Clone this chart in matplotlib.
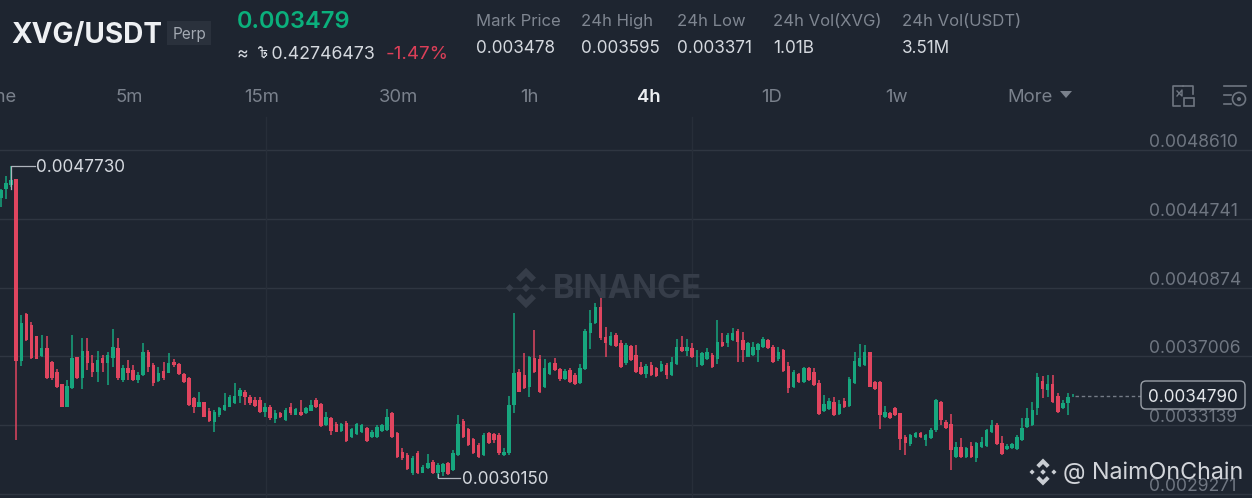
import matplotlib
matplotlib.use("Agg")
import matplotlib.pyplot as plt
from matplotlib import font_manager as fm
from matplotlib.ft2font import FT2Font
from matplotlib.patches import FancyBboxPatch, Rectangle, Polygon, Circle

plt.rcParams['font.family'] = ['Inter', 'Noto Sans', 'DejaVu Sans']

# prices in millionths of USDT
opens = [4589,4640,4664,4696,3677,3939,3877,3815,3705,3746,3671,3615,3544,3414,3521,3699,3577,3731,3662,3615,
 3690,3662,3690,3746,3568,3634,3624,3568,3596,3727,3652,3564,3620,3609,3667,3658,3602,3577,3465,3418,
 3442,3396,3334,3371,3399,3418,3440,3478,3502,3474,3456,3456,3390,3418,3347,3381,3343,3414,3371,3390,
 3381,3396,3456,
 3433,3315,3352,3320,3283,3328,3245,3264,3277,3300,3245,3249,3283,3287,3380,3268,3165,3146,3047,3159,
 3047,3071,3109,3043,3052,3099,3062,3146,3339,3290,3234,3202,3146,3268,3264,3259,3146,3156,3427,3615,
 3596,3530,3690,3684,3527,3602,3665,3628,3572,3624,3596,3553,3628,3834,3886,3976,3808,3765,3821,3778,3662,
 3759,3709,3643,3602,3653,3634,3621,3653,3596,3658,3756,3733,3746,3647,3653,3684,3709,3684,3784,3774,3793,
 3846,3793,3699,3709,3737,3752,3793,3756,3684,3737,3647,3527,3602,3559,3634,3615,3549,3396,3403,3446,3377,
 3452,3422,3549,3647,3653,3724,3559,3559,3358,3385,3409,3381,3250,3208,3246,3268,3231,3240,3287,
 3446,3334,3321,3133,3193,3137,3197,3128,3193,3197,3278,3315,3212,3178,3184,3178,3231,3302,3315,3409,3564,
 3512,3546,3478,3409,3437,3476]
highs = [4640,4715,4773,4700,3933,3943,3896,3815,3821,3817,3677,3628,3544,3568,3821,3699,3802,3802,3708,3731,
 3708,3727,3855,3802,3652,3680,3652,3615,3778,3737,3662,3643,3667,3718,3686,3662,3605,3587,3470,3499,
 3446,3409,3399,3418,3497,3484,3553,3521,3512,3484,3470,3474,3440,3427,3399,3390,3409,3437,3409,3456,
 3418,3456,3465,
 3437,3386,3358,3334,3324,3339,3296,3328,3320,3305,3287,3315,3320,3403,3386,3277,3184,3159,3140,3171,
 3090,3152,3118,3103,3103,3109,3174,3371,3347,3296,3240,3212,3272,3274,3272,3272,3184,3478,3943,3628,
 3721,3703,3849,3708,3684,3671,3690,3633,3628,3633,3605,3658,3853,3961,3999,4033,3864,3840,3830,3793,3774,
 3765,3765,3671,3658,3671,3643,3677,3666,3699,3797,3816,3797,3778,3737,3728,3746,3718,3906,3834,3834,3859,
 3853,3840,3784,3784,3778,3808,3797,3765,3752,3741,3671,3624,3606,3639,3639,3634,3568,3484,3465,3471,3456,
 3465,3587,3728,3771,3765,3728,3565,3565,3422,3390,3415,3385,3259,3265,3278,3278,3265,3296,3460,
 3452,3343,3377,3221,3240,3193,3221,3221,3249,3291,3343,3324,3253,3208,3216,3259,3353,3409,3446,3609,3591,
 3596,3596,3497,3456,3497,3489]
lows = [4539,4584,4655,3231,3647,3789,3684,3684,3699,3574,3568,3521,3414,3414,3515,3572,3515,3624,3587,3559,
 3615,3540,3643,3568,3559,3568,3564,3553,3590,3615,3534,3555,3568,3605,3643,3596,3553,3422,3381,3414,
 3358,3334,3274,3362,3396,3414,3433,3437,3427,3427,3418,3381,3362,3343,3328,3352,3337,3371,3371,3367,
 3375,3392,3409,
 3305,3311,3259,3274,3277,3221,3240,3259,3272,3221,3240,3244,3277,3281,3240,3127,3118,3062,3034,3039,
 3043,3066,3039,3015,3028,3036,3058,3140,3240,3197,3152,3131,3140,3206,3212,3146,3142,3146,3380,3498,
 3515,3470,3605,3493,3521,3598,3620,3564,3568,3553,3540,3545,3624,3740,3883,3793,3699,3759,3755,3633,3654,
 3675,3609,3596,3578,3591,3587,3615,3572,3591,3653,3728,3703,3690,3643,3647,3681,3634,3658,3756,3752,3789,
 3671,3671,3696,3703,3671,3746,3741,3662,3677,3615,3493,3521,3553,3553,3563,3535,3371,3390,3400,3366,3371,
 3413,3415,3546,3643,3647,3527,3512,3291,3353,3347,3366,3175,3147,3197,3242,3242,3197,3235,3278,
 3315,3291,3062,3128,3128,3131,3128,3109,3188,3193,3272,3203,3146,3175,3178,3175,3227,3296,3309,3371,
 3465,3471,3441,3381,3403,3371,3471]
closes = [4636,4677,4692,3675,3887,3793,3690,3686,3746,3577,3577,3527,3414,3534,3690,3577,3731,3662,3615,3680,
 3662,3708,3755,3577,3634,3605,3568,3596,3724,3643,3549,3609,3577,3662,3652,3602,3559,3427,3418,3446,
 3362,3339,3390,3409,3427,3470,3480,3512,3474,3437,3422,3390,3418,3352,3381,3362,3399,3381,3403,3371,
 3409,3427,3418,
 3309,3362,3283,3277,3319,3227,3290,3319,3315,3227,3277,3305,3315,3362,3245,3137,3127,3066,3127,3043,
 3081,3099,3047,3090,3096,3039,3159,3320,3245,3202,3156,3137,3259,3212,3230,3156,3165,3427,3605,3502,
 3521,3695,3615,3502,3633,3662,3624,3572,3620,3558,3545,3633,3845,3886,3976,3802,3774,3815,3759,3639,3765,
 3681,3615,3602,3647,3596,3591,3658,3596,3671,3756,3733,3752,3696,3647,3718,3728,3639,3784,3759,3821,3831,
 3784,3737,3774,3756,3771,3797,3746,3671,3728,3621,3521,3615,3559,3634,3568,3540,3377,3433,3452,3371,3433,
 3418,3572,3677,3690,3728,3531,3516,3371,3390,3353,3371,3235,3212,3259,3272,3246,3259,3287,3456,
 3343,3296,3175,3193,3133,3184,3133,3216,3221,3287,3315,3208,3152,3197,3208,3250,3296,3353,3399,3587,3516,
 3546,3446,3390,3441,3474,3479]
assert len(opens) == len(highs) == len(lows) == len(closes), (len(opens), len(highs), len(lows), len(closes))

tick_prices = [0.0048610, 0.0044741, 0.0040874, 0.0037006, 0.0033139, 0.0029271]
tick_labels = ["0.0048610", "0.0044741", "0.0040874", "0.0037006", "0.0033139", "0.0029271"]
high_label, low_label, last_price = 0.0047730, 0.0030150, 0.0034790
tabs = ["Time", "5m", "15m", "30m", "1h", "4h", "1D", "1w", "More"]
tab_x = [16, 129, 262, 399, 529, 649, 772, 897, 1030]
stats = [("Mark Price", "0.003478"), ("24h High", "0.003595"), ("24h Low", "0.003371"),
         ("24h Vol(XVG)", "1.01B"), ("24h Vol(USDT)", "3.51M")]
stat_x = [476, 581, 677, 773, 902]

BG = "#1e2530"; GRID = "#2f3641"; GREEN = "#17a67e"; RED = "#e0455f"
W, H = 1252, 498
fig = plt.figure(figsize=(W/100, H/100), dpi=100, facecolor=BG)
ax = fig.add_axes([0, 0, 1, 1], facecolor=BG)

n = len(opens)
step = (1073 - 1) / (n - 1)
ax.set_xlim(-1/step, (W - 1)/step)
per_px = (0.0048610 - 0.0029271) / (494 - 150)
ax.set_ylim(0.0048610 - (H - 150)*per_px, 0.0048610 + 150*per_px)
ax.axis("off")

grid_top = 1 - 117/H
for p in tick_prices:
    ax.axhline(p, color=GRID, lw=1, zorder=1)
for i in (52.1, 136):
    ax.axvline(i, ymin=0, ymax=grid_top, color="#272e39", lw=1, zorder=1)

for i in range(n):
    o, h, l, c = [v*1e-6 for v in (opens[i], highs[i], lows[i], closes[i])]
    col = GREEN if c >= o else RED
    ax.vlines(i, l, h, color=col, lw=1.1, zorder=3)
    ax.bar(i, abs(c-o), bottom=min(o, c), width=0.7, color=col, lw=0, zorder=3)

ax.plot([n-1+0.4, (1141-1)/step], [last_price]*2, color="#747b86", lw=1, ls=(0, (2.5, 2)), zorder=2)

LBL = "#d5d9df"
ax.plot([2, 2, 6.7], [0.00464, high_label, high_label], color="#aeb4bc", lw=0.9, zorder=4)
ax.text(6.9, high_label - 1.5*per_px, f"{high_label:.7f}", color=LBL, fontsize=12.3, va="center", ha="left", zorder=5)
low_i = 86
ax.plot([low_i, low_i, low_i+4.4], [0.00304, low_label, low_label], color="#aeb4bc", lw=0.9, zorder=4)
ax.text(low_i+4.8, low_label - 1.5*per_px, f"{low_label:.7f}", color=LBL, fontsize=12.3, va="center", ha="left", zorder=5)

ui = fig.add_axes([0, 0, 1, 1], facecolor="none")
ui.set_xlim(0, W); ui.set_ylim(H, 0); ui.axis("off")

for lab, p in zip(tick_labels, tick_prices):
    ax.text((1149-1)/step, p + 7.5*per_px, lab, color="#6f7681", fontsize=12.6, va="center", ha="left", zorder=2)

ui.add_patch(FancyBboxPatch((1144, 384), 98, 22, boxstyle="round,pad=3,rounding_size=5",
                            fc=BG, ec="#9aa0a8", lw=1, zorder=4))
ui.text(1193, 397, f"{last_price:.7f}", color="#e3e6ea", fontsize=12.3, ha="center", va="center", zorder=5)

# header
ui.text(11, 35, "XVG/USDT", color="#eef0f3", fontsize=20.1, fontweight="bold", va="center")
ui.add_patch(Rectangle((167, 21), 44, 24, fc="#2a313c", ec="none"))
ui.text(189, 34.5, "Perp", color="#a3a9b2", fontsize=11, ha="center", va="center")
ui.text(237, 21.5, "0.003479", color="#0bb07c", fontsize=17, fontweight="semibold", va="center")

# the taka sign: use any installed family that has it, otherwise a look-alike glyph
taka_family = None
for fe in fm.fontManager.ttflist:
    try:
        if 0x09F3 in FT2Font(fe.fname).get_charmap():
            taka_family = fe.name
            break
    except Exception:
        pass
if taka_family:
    ui.text(237, 54.5, "≈ ৳0.42746473", color="#d5d9df", fontsize=12.8, va="center",
            family=['Inter', taka_family, 'DejaVu Sans'])
else:
    ui.text(237, 54.5, "≈", color="#d5d9df", fontsize=11, va="center")
    ui.text(252, 54.5, "ƀ", color="#d5d9df", fontsize=12.8, va="center", family=['DejaVu Sans'])
    ui.text(264.5, 54.5, "0.42746473", color="#d5d9df", fontsize=12.8, va="center")
ui.text(386, 54.5, "-1.47%", color="#dc3f58", fontsize=13.5, va="center")
for (a, b), x in zip(stats, stat_x):
    ui.text(x, 21.5, a, color="#7f8691", fontsize=12, va="center")
    ui.text(x, 48, b, color="#d5d9df", fontsize=12.3, va="center")

# tabs
for t, x in zip(tabs, tab_x):
    active = t == "4h"
    ui.text(x, 97, t, color="#eceef1" if active else "#7a818c", fontsize=13.3,
            fontweight="semibold" if active else "normal",
            ha="right" if t == "Time" else "center", va="center")
ui.add_patch(Polygon([(1060, 91), (1072, 91), (1066, 98)], fc="#7a818c", ec="none"))

# toolbar icons
ICON = "#6f7681"
ui.plot([1183, 1173, 1173, 1180], [86, 86, 106, 106], color=ICON, lw=1.2)
ui.plot([1183, 1193, 1193], [86, 86, 94], color=ICON, lw=1.2)
ui.add_patch(Rectangle((1184, 98), 10, 8, fc="none", ec=ICON, lw=1.2))
ui.plot([1177, 1182, 1182, 1177], [91, 96, 90, 96], color=ICON, lw=1)
ui.plot([1224, 1246], [86, 86], color=ICON, lw=1.2)
ui.plot([1224, 1231], [95, 95], color=ICON, lw=1.2)
ui.plot([1224, 1231], [104, 104], color=ICON, lw=1.2)
ui.add_patch(Circle((1239, 99), 6.5, fc="none", ec=ICON, lw=1.2))
ui.add_patch(Circle((1239, 99), 2, fc=ICON, ec="none"))

# watermarks
WM = "#363d49"
def logo(cx, cy, s, col, zorder=2):
    d = s/4.2
    for dx, dy, r in [(-2.55, 0, 0.6), (2.55, 0, 0.6), (0, 0, 0.65)]:
        x, y, a = cx + dx*d, cy + dy*d, r*d
        ui.add_patch(Polygon([(x, y-a), (x+a, y), (x, y+a), (x-a, y)], fc=col, ec="none", zorder=zorder))
    for sgn in (-1, 1):
        a = 3.15*d
        pts = [(cx, cy + sgn*a), (cx + 1.55*d, cy + sgn*(a - 1.55*d)), (cx + 0.9*d, cy + sgn*(a - 2.2*d)),
               (cx, cy + sgn*(a - 1.3*d)), (cx - 0.9*d, cy + sgn*(a - 2.2*d)), (cx - 1.55*d, cy + sgn*(a - 1.55*d))]
        ui.add_patch(Polygon(pts, fc=col, ec="none", zorder=zorder))

logo(526, 288, 27, WM)
ui.text(553, 289.5, "BINANCE", color=WM, fontsize=23.6, fontweight="bold", va="center", zorder=2)
logo(1043, 472, 18, "#c9cdd3", 6)
ui.text(1063, 473, "@ NaimOnChain", color="#d2d5da", fontsize=16.8, va="center", zorder=6)

fig.savefig("out.png", dpi=100, facecolor=BG)
